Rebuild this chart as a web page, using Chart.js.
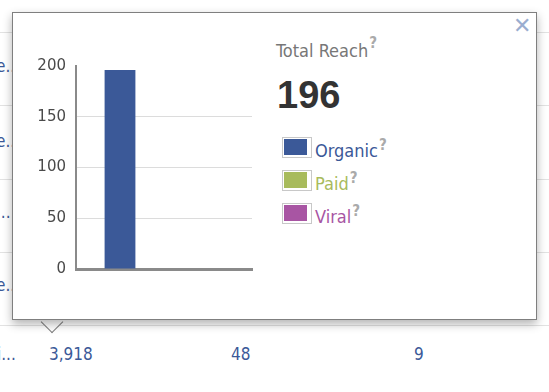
<!DOCTYPE html>
<html>
<head>
<meta charset="utf-8">
<script src="https://cdn.jsdelivr.net/npm/chart.js@4"></script>
<style>
  body { margin: 0; width: 549px; height: 392px; background: #fff; font-family: "DejaVu Sans Condensed", "DejaVu Sans", Tahoma, sans-serif; overflow: hidden; position: relative; }
  .row-line { position: absolute; left: 0; width: 549px; height: 1px; background: #e2e2e2; }
  .bg-txt { position: absolute; color: #3b5998; font-size: 17px; }
  .popup { position: absolute; left: 12px; top: 12px; width: 523px; height: 306px; background: #fff; border: 1px solid #7f7f7f; box-shadow: 0 4px 9px rgba(0,0,0,0.3); }
  .arrow { position: absolute; left: 44px; top: 314px; width: 15px; height: 15px; background: #fff; border-right: 1px solid #7f7f7f; border-bottom: 1px solid #7f7f7f; transform: rotate(45deg); }
  .close { position: absolute; left: 513px; top: 13px; color: #9aaed0; font-size: 22px; font-weight: bold; font-family: "DejaVu Sans", sans-serif; }
  #chartBox { position: absolute; left: 30px; top: 47px; width: 230px; height: 241px; }
  .title { position: absolute; left: 276px; top: 40px; color: #777; font-size: 18px; }
  .q { color: #aaa; font-size: 15px; font-weight: bold; vertical-align: top; position: relative; top: -6px; margin-left: 1px; }
  .big { position: absolute; left: 277px; top: 74px; color: #333; font-size: 38px; font-weight: bold; font-family: "Liberation Sans", Arial, sans-serif; }
  .leg { position: absolute; left: 282px; font-size: 18px; height: 22px; line-height: 22px; }
  .leg .sw { position: absolute; left: 0; top: 0; width: 23px; height: 16px; border: 1px solid #c8c8c8; padding: 1px 4px 2px 1px; }
  .leg .sw span { display: block; width: 23px; height: 16px; }
  .leg .nm { position: absolute; left: 33px; top: 3px; white-space: nowrap; }
</style>
</head>
<body>
<div class="row-line" style="top:32px"></div>
<div class="row-line" style="top:105px"></div>
<div class="row-line" style="top:179px"></div>
<div class="row-line" style="top:252px"></div>
<div class="row-line" style="top:325px"></div>
<div class="bg-txt" style="left:-4px;top:56px">e..</div>
<div class="bg-txt" style="left:-4px;top:131px">e..</div>
<div class="bg-txt" style="left:-4px;top:202px">...</div>
<div class="bg-txt" style="left:-4px;top:275px">e..</div>
<div class="bg-txt" style="left:-3px;top:344px">i...</div>
<div class="bg-txt" style="left:49px;top:344px">3,918</div>
<div class="bg-txt" style="left:231px;top:344px">48</div>
<div class="bg-txt" style="left:414px;top:344px">9</div>

<div class="arrow"></div>
<div class="popup"></div>
<div class="close">&#x2715;</div>
<div id="chartBox"><canvas id="reachChart"></canvas></div>
<div class="title">Total Reach<span class="q">?</span></div>
<div class="big" id="total"></div>
<div id="legend"></div>

<script>
const CATEGORIES = ['', ''];
const SERIES_NAMES = ['Organic', 'Paid', 'Viral'];
const SERIES_COLORS = ['#3b5998', '#a8bb5c', '#a855a3'];
const ORGANIC = [196, 0];
const PAID = [0, 0];
const VIRAL = [0, 0];
const Y_TICKS = [0, 50, 100, 150, 200];

const seriesValues = [ORGANIC, PAID, VIRAL];

document.getElementById('total').textContent = ORGANIC[0] + PAID[0] + VIRAL[0];

let legendHtml = '';
SERIES_NAMES.forEach(function(name, i) {
    legendHtml += '<div class="leg" style="top:' + (137 + i * 33) + 'px;color:' + SERIES_COLORS[i] + '">' +
        '<span class="sw"><span style="background:' + SERIES_COLORS[i] + '"></span></span>' +
        '<span class="nm">' + name + '<span class="q">?</span></span></div>';
});
document.getElementById('legend').innerHTML = legendHtml;

const ctx = document.getElementById('reachChart').getContext('2d');
new Chart(ctx, {
    type: 'bar',
    data: {
        labels: CATEGORIES,
        datasets: SERIES_NAMES.map(function(name, i) {
            return {
                label: name,
                data: seriesValues[i],
                backgroundColor: SERIES_COLORS[i],
                categoryPercentage: 0.7,
                barPercentage: 0.5
            };
        })
    },
    options: {
        responsive: true,
        maintainAspectRatio: false,
        animation: false,
        layout: { padding: { top: 10, right: 8, left: 0, bottom: 0 } },
        plugins: { legend: { display: false }, tooltip: { enabled: false } },
        scales: {
            x: {
                stacked: true,
                grid: { display: false },
                ticks: { display: false },
                border: { color: '#8a8a8a', width: 3 },
                afterFit: function(s) { s.height = 11; }
            },
            y: {
                stacked: true,
                min: 0,
                max: 200,
                afterBuildTicks: function(s) { s.ticks = Y_TICKS.map(function(v) { return { value: v }; }); },
                grid: {
                    drawTicks: false,
                    color: function(c) { return (c.tick.value === 0 || c.tick.value === 200) ? 'rgba(0,0,0,0)' : '#dcdcdc'; }
                },
                border: { color: '#8a8a8a', width: 2 },
                ticks: { padding: 10, color: '#4a4a4a', font: { family: 'DejaVu Sans', size: 15 } },
                afterFit: function(s) { s.width = 46; }
            }
        }
    }
});
</script>
</body>
</html>
